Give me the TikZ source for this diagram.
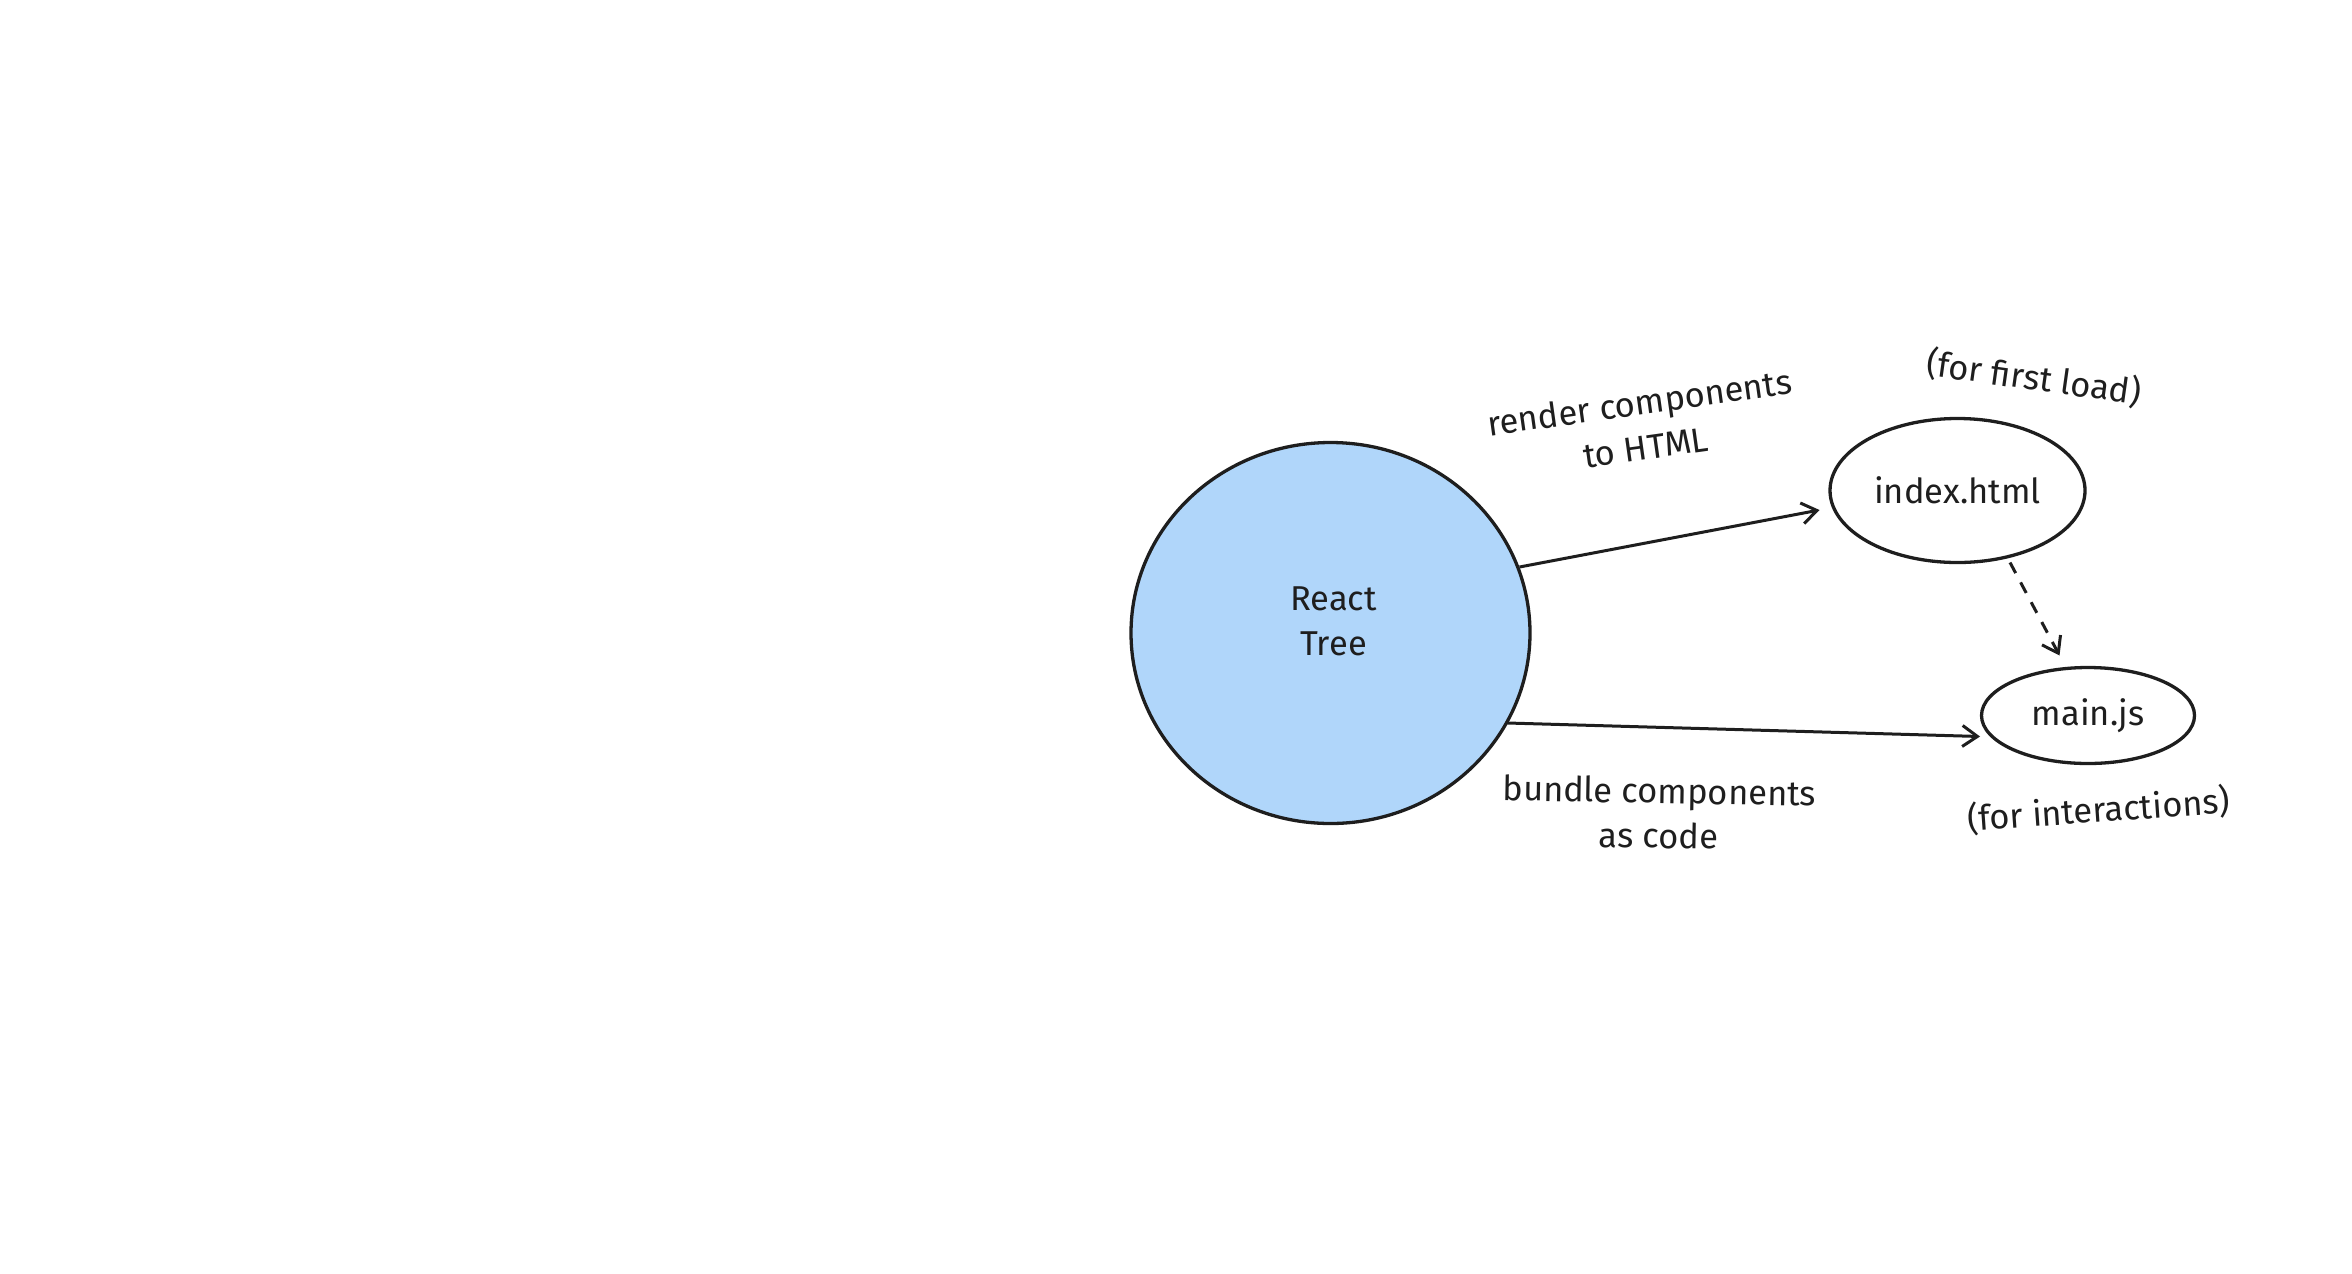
\documentclass[tikz,border=0pt]{standalone}
\usepackage{fontspec}
\setmainfont{Fira Sans}
\usetikzlibrary{arrows.meta}
\definecolor{fillblue}{HTML}{B0D6FA}
\definecolor{ink}{HTML}{1E1E1E}
\begin{document}
\begin{tikzpicture}[x=1pt,y=-1pt,
  shp/.style={draw=ink,line width=2.2pt},
  conn/.style={draw=ink,line width=2pt,-{Straight Barb[length=10pt,width=14pt]}},
  lbl/.style={font=\fontsize{23}{30}\selectfont,text=ink,align=center}]
\useasboundingbox (0,0) rectangle (1568,849);
\draw[shp,fill=fillblue] (887,422) ellipse[x radius=133,y radius=127];
\node[lbl] (react) at (889,414) {React\\Tree};
\draw[shp] (1305,327) ellipse[x radius=85,y radius=48];
\node[lbl] (index) at (1305,327) {index.html};
\coordinate (ia) at (1013,378); \coordinate (ib) at (1213,340);
\draw[shp] (1392,477) ellipse[x radius=71,y radius=32];
\node[lbl] (main) at (1392,477) {main.js};
\coordinate (ma) at (1005,482); \coordinate (mb) at (1320,491);
\coordinate (da) at (1340,375); \coordinate (db) at (1373,437);
\draw[conn] (ia) -- (ib);
\draw[conn] (ma) -- (mb);
\draw[conn,dashed,dash pattern=on 8pt off 7pt] (da) -- (db);
\node[lbl,rotate=8] (l1) at (1095,283) {render components\\to HTML};
\node[lbl,rotate=-8] (l2) at (1356,252) {(for first load)};
\node[lbl,rotate=-1] (l3) at (1106,542) {bundle components\\as code};
\node[lbl,rotate=4] (l4) at (1399,540) {(for interactions)};
\end{tikzpicture}
\end{document}
